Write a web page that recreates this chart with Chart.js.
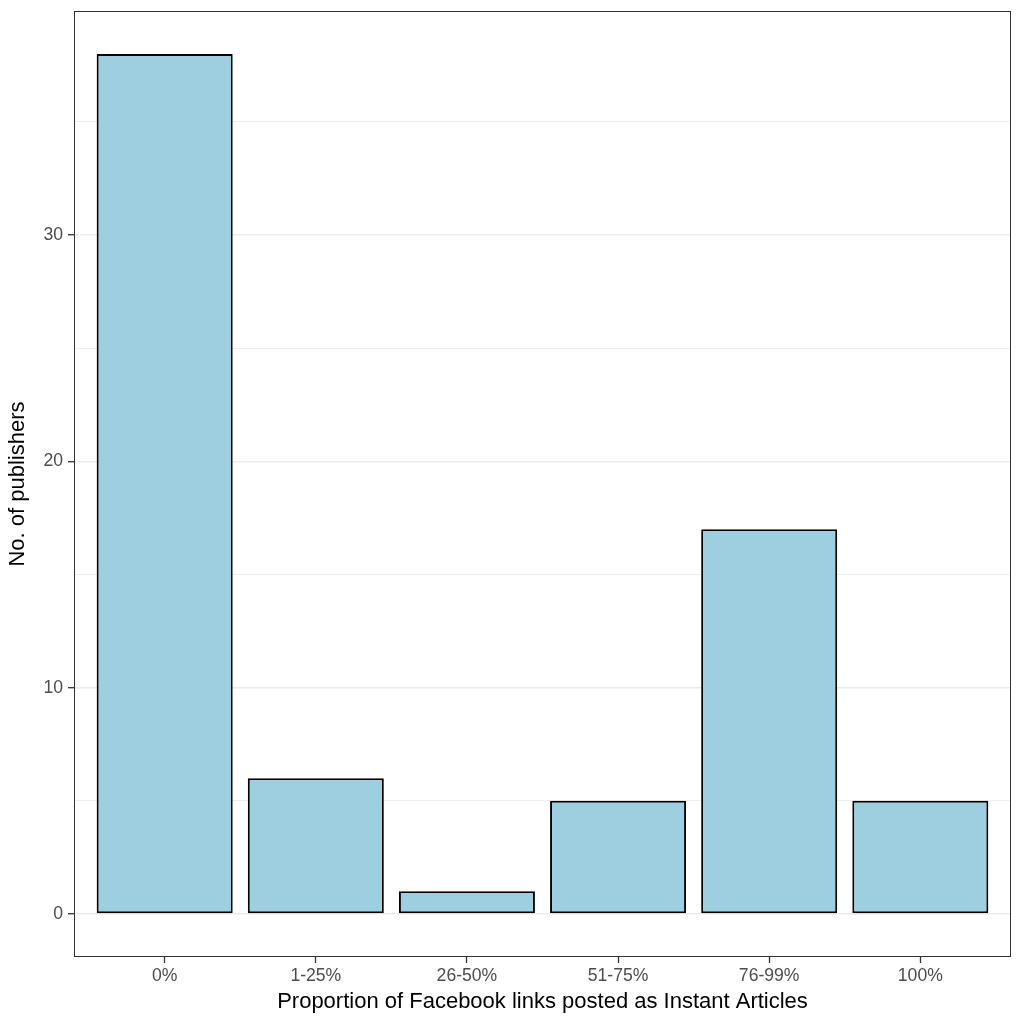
<!DOCTYPE html>
<html>
<head>
<meta charset="utf-8">
<script src="https://cdn.jsdelivr.net/npm/chart.js@4"></script>
<style>
  html, body { margin: 0; padding: 0; background: #ffffff; }
  canvas { display: block; }
</style>
</head>
<body>
<canvas id="chart" width="1024" height="1024"></canvas>
<script>
// Données
const categories = ["0%", "1-25%", "26-50%", "51-75%", "76-99%", "100%"]
const publishers = [38, 6, 1, 5, 17, 5]
const yTicks = [0, 5, 10, 15, 20, 25, 30, 35]

const FONT = "'Liberation Sans', Arial, Helvetica, sans-serif"

// Cadre du panneau (theme_bw)
const panelBorder = {
  id: "panelBorder",
  afterDraw(chart) {
    const { ctx, chartArea } = chart
    ctx.save()
    ctx.strokeStyle = "#333333"
    ctx.lineWidth = 1
    ctx.strokeRect(chartArea.left + 0.5, chartArea.top + 0.5,
      chartArea.right - chartArea.left - 1, chartArea.bottom - chartArea.top - 1)
    ctx.restore()
  }
}

const isMajor = (v) => v % 10 === 0

new Chart(document.getElementById("chart"), {
  type: "bar",
  data: {
    datasets: [{
      data: publishers.map((v, i) => ({ x: i + 1, y: v })),
      backgroundColor: "#9ecfe0",
      borderColor: "#000000",
      borderWidth: 2,
      borderSkipped: false,
      barPercentage: 0.9,
      categoryPercentage: 1.0
    }]
  },
  options: {
    responsive: false,
    animation: false,
    devicePixelRatio: 1,
    layout: { padding: { top: 11, right: 13, left: 0, bottom: 0 } },
    plugins: {
      legend: { display: false },
      tooltip: { enabled: false }
    },
    scales: {
      x: {
        type: "linear",
        min: 0.4,
        max: 6.6,
        offset: false,
        afterBuildTicks: (scale) => {
          scale.ticks = categories.map((c, i) => ({ value: i + 1 }))
        },
        afterFit: (scale) => { scale.height = 67 },
        border: { display: false },
        grid: {
          offset: false,
          drawOnChartArea: false,
          drawTicks: true,
          tickLength: 6,
          tickColor: "#333333",
          tickWidth: 1.3
        },
        ticks: {
          autoSkip: false,
          maxRotation: 0,
          padding: 3,
          color: "#4d4d4d",
          font: { family: FONT, size: 17.6 },
          callback: (value) => categories[value - 1]
        },
        title: {
          display: true,
          text: "Proportion of Facebook links posted as Instant Articles",
          color: "#000000",
          font: { family: FONT, size: 22 },
          padding: { top: 0, bottom: 9 }
        }
      },
      y: {
        min: -1.9,
        max: 39.9,
        afterBuildTicks: (scale) => {
          scale.ticks = yTicks.map((v) => ({ value: v }))
        },
        afterFit: (scale) => { scale.width = 74 },
        border: { display: false },
        grid: {
          drawTicks: true,
          tickLength: 6,
          color: (ctx) => isMajor(ctx.tick.value) ? "#ebebeb" : "#efefef",
          lineWidth: (ctx) => isMajor(ctx.tick.value) ? 1.4 : 1,
          tickColor: (ctx) => isMajor(ctx.tick.value) ? "#333333" : "rgba(0,0,0,0)",
          tickWidth: 1.3
        },
        ticks: {
          padding: 5,
          color: "#4d4d4d",
          font: { family: FONT, size: 17.6, lineHeight: 0.6 },
          callback: (value) => isMajor(value) ? String(value) : ""
        },
        title: {
          display: true,
          text: "No. of publishers",
          color: "#000000",
          font: { family: FONT, size: 22 },
          padding: { top: 5, bottom: 0 }
        }
      }
    }
  },
  plugins: [panelBorder]
})
</script>
</body>
</html>
